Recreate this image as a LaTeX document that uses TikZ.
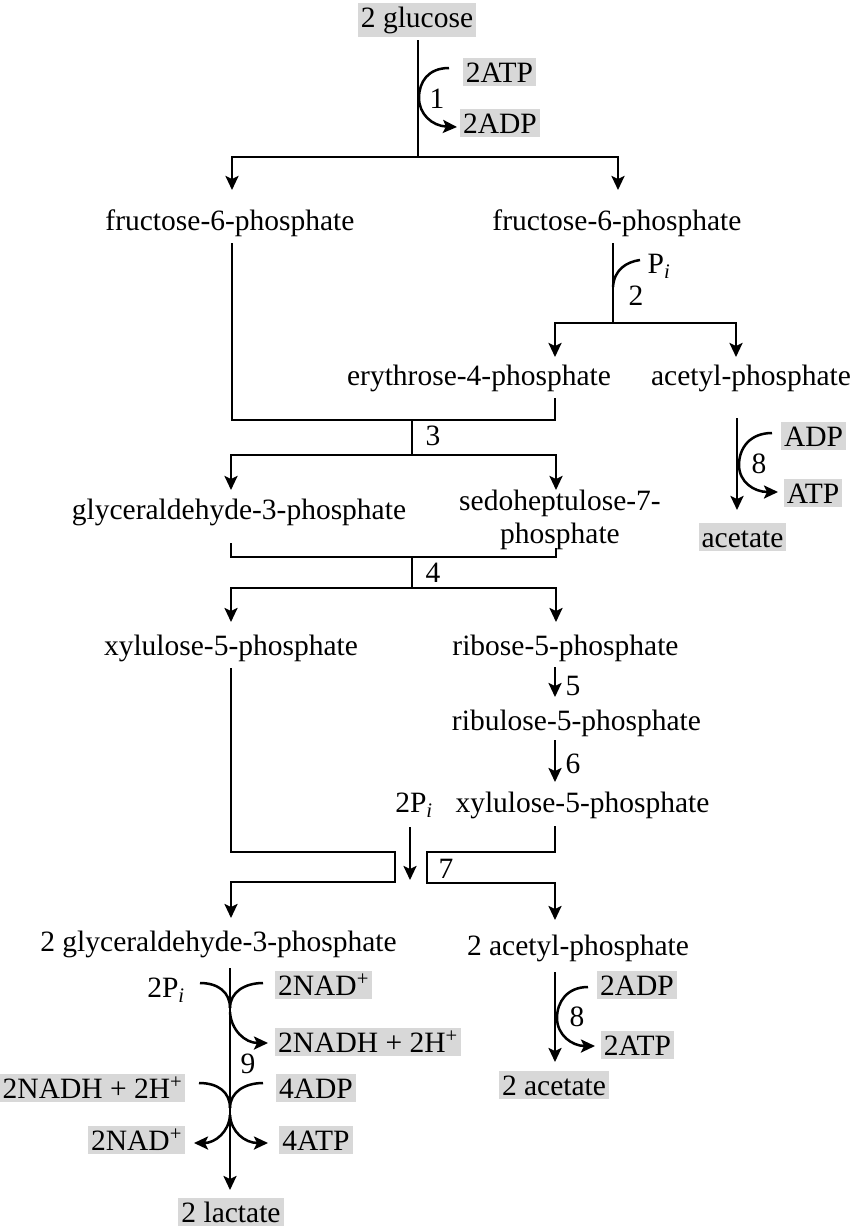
\documentclass[tikz,border=0pt]{standalone}
\usepackage{fontspec}
\setmainfont{Liberation Serif}
\usetikzlibrary{arrows.meta}
\definecolor{boxgray}{RGB}{216,216,216}
\begin{document}
\begin{tikzpicture}[x=1pt,y=-1pt,
  every node/.style={font=\fontsize{29.5}{33}\selectfont, inner sep=0pt},
  lbl/.style={anchor=base},
  gbox/.style={anchor=base, fill=boxgray, inner xsep=3pt, inner ysep=3.5pt, text height=21pt},
  ln/.style={line width=2.5pt},
  arr/.style={ln,-{Stealth[length=14pt,width=13pt,inset=3pt]}}]
\useasboundingbox (0,0) rectangle (850,1229);

% ---------- nodes ----------
\node[gbox] (glu) at (417,27) {2 glucose};
\node[gbox] (atpA) at (499.5,82) {2ATP};
\node[gbox] (adpA) at (500,133) {2ADP};
\node[lbl] (n1) at (437,108) {1};
\node[lbl] (f6pL) at (230,230) {fructose-6-phosphate};
\node[lbl] (f6pR) at (617,230) {fructose-6-phosphate};
\node[lbl] (pi1) at (659,273) {P\textsubscript{\textit{i}}};
\node[lbl] (n2) at (636,305) {2};
\node[lbl] (e4p) at (479,385) {erythrose-4-phosphate};
\node[lbl] (acp) at (751,385) {acetyl-phosphate};
\node[gbox] (adpB) at (813.5,446) {ADP};
\node[gbox] (atpB) at (813,503) {ATP};
\node[lbl] (n8a) at (759,473) {8};
\node[gbox] (acet) at (742.5,547) {acetate};
\node[lbl] (n3) at (433,445) {3};
\node[lbl] (gap) at (239,519) {glyceraldehyde-3-phosphate};
\node[anchor=center, align=center] (s7p) at (560,519.5) {sedoheptulose-7-\\phosphate};
\node[lbl] (n4) at (433,582) {4};
\node[lbl] (x5pL) at (231,655) {xylulose-5-phosphate};
\node[lbl] (r5p) at (565.5,655) {ribose-5-phosphate};
\node[lbl] (n5) at (573,695) {5};
\node[lbl] (ru5p) at (576.5,730) {ribulose-5-phosphate};
\node[lbl] (n6) at (573,773) {6};
\node[lbl] (x5pR) at (582.5,812) {xylulose-5-phosphate};
\node[lbl] (pi2) at (414,812) {2P\textsubscript{\textit{i}}};
\node[lbl] (n7) at (446,878) {7};
\node[lbl] (gap2) at (218.5,951) {2 glyceraldehyde-3-phosphate};
\node[lbl] (acp2) at (578,955) {2 acetyl-phosphate};
\node[lbl] (pi3) at (166,997) {2P\textsubscript{\textit{i}}};
\node[gbox] (nadA) at (323.5,995) {2NAD\textsuperscript{+}};
\node[gbox] (nadhA) at (368,1052) {2NADH + 2H\textsuperscript{+}};
\node[lbl] (n9) at (248,1073) {9};
\node[gbox] (nadhB) at (92.5,1098) {2NADH + 2H\textsuperscript{+}};
\node[gbox] (adpC) at (316,1098) {4ADP};
\node[gbox] (nadB) at (136.5,1150) {2NAD\textsuperscript{+}};
\node[gbox] (atpC) at (316,1150) {4ATP};
\node[gbox] (lac) at (231,1222) {2 lactate};
\node[gbox] (adpD) at (637,995) {2ADP};
\node[gbox] (atpD) at (637.5,1055) {2ATP};
\node[lbl] (n8b) at (577,1026) {8};
\node[gbox] (acet2) at (554,1095) {2 acetate};

% ---------- step 1 ----------
\coordinate (g1) at (418,40);
\coordinate (j1) at (418,157);
\coordinate (fLt) at (232,190);
\coordinate (fRt) at (618,190);
\draw[ln] (g1) -- (j1);
\draw[arr] (j1) -| (fLt);
\draw[arr] (j1) -| (fRt);
\coordinate (c1a) at (449,68);
\coordinate (c1m) at (419,98);
\coordinate (c1b) at (457,127);
\draw[arr] (c1a) .. controls (428,68) and (419,82) .. (c1m) .. controls (419,114) and (432,126) .. (c1b);

% ---------- step 2 ----------
\coordinate (fRb) at (613,243);
\coordinate (j2) at (613,323);
\draw[ln] (fRb) -- (j2);
\coordinate (c2a) at (613,287);
\coordinate (c2b) at (640,260);
\draw[ln] (c2a) .. controls (614,270) and (626,262) .. (c2b);
\coordinate (e4pt) at (555,357);
\coordinate (acpt) at (736,357);
\draw[arr] (j2) -| (e4pt);
\draw[arr] (j2) -| (acpt);

% ---------- acetate (top right) ----------
\coordinate (acpb) at (737,418);
\coordinate (acett) at (737,510);
\draw[arr] (acpb) -- (acett);
\coordinate (c8a) at (772,433);
\coordinate (c8m) at (739,465);
\coordinate (c8b) at (778,492);
\draw[arr] (c8a) .. controls (750,433) and (739,448) .. (c8m) .. controls (739,482) and (754,492) .. (c8b);

% ---------- step 3 ----------
\coordinate (fLb) at (232,243);
\coordinate (e4pb) at (555,398);
\coordinate (j3) at (412,420);
\coordinate (j3b) at (412,455);
\draw[ln] (fLb) |- (j3) -| (e4pb);
\draw[ln] (j3) -- (j3b);
\coordinate (gapt) at (231,490);
\coordinate (s7pt) at (556,490);
\draw[arr] (j3b) -| (gapt);
\draw[arr] (j3b) -| (s7pt);

% ---------- step 4 ----------
\coordinate (gapb) at (231,543);
\coordinate (s7pb) at (556,548);
\coordinate (j4) at (412,557);
\coordinate (j4b) at (412,588);
\draw[ln] (gapb) |- (j4) -| (s7pb);
\draw[ln] (j4) -- (j4b);
\coordinate (x5Lt) at (231,622);
\coordinate (r5pt) at (556,622);
\draw[arr] (j4b) -| (x5Lt);
\draw[arr] (j4b) -| (r5pt);

% ---------- steps 5, 6 ----------
\coordinate (r5pb) at (555,667);
\coordinate (ru5pt) at (555,697);
\coordinate (ru5pb) at (555,740);
\coordinate (x5Rt) at (555,782);
\draw[arr] (r5pb) -- (ru5pt);
\draw[arr] (ru5pb) -- (x5Rt);

% ---------- step 7 ----------
\coordinate (x5Lb) at (231,668);
\coordinate (k1) at (395,852);
\coordinate (k2) at (395,882);
\coordinate (gap2t) at (231,918);
\draw[arr] (x5Lb) |- (k1) -- (k2) -| (gap2t);
\coordinate (x5Rb) at (555,826);
\coordinate (k3) at (427,852);
\coordinate (k4) at (427,883);
\coordinate (acp2t) at (555,920);
\draw[arr] (x5Rb) |- (k3) -- (k4) -| (acp2t);
\coordinate (pi2b) at (410,827);
\coordinate (pi2e) at (410,880);
\draw[arr] (pi2b) -- (pi2e);

% ---------- step 9 (lactate) ----------
\coordinate (gap2b) at (230,968);
\coordinate (lact) at (230,1190);
\draw[arr] (gap2b) -- (lact);
\coordinate (m1) at (230,1008);
\coordinate (m1o) at (230,1012);
\coordinate (m2) at (230,1108);
\coordinate (m2o) at (230,1115);
\coordinate (piin) at (200,983);
\coordinate (nadin) at (263,983);
\coordinate (nadhout) at (268,1043);
\coordinate (nadhin) at (199,1083);
\coordinate (adpin) at (263,1083);
\coordinate (nadout) at (194,1143);
\coordinate (atpout) at (268,1143);
\draw[ln] (piin) .. controls (218,983) and (230,992) .. (m1);
\draw[ln] (nadin) .. controls (245,983) and (230,992) .. (m1);
\draw[arr] (m1o) .. controls (231,1030) and (245,1043) .. (nadhout);
\draw[ln] (nadhin) .. controls (218,1083) and (230,1092) .. (m2);
\draw[ln] (adpin) .. controls (245,1083) and (230,1092) .. (m2);
\draw[arr] (m2o) .. controls (229,1132) and (215,1143) .. (nadout);
\draw[arr] (m2o) .. controls (231,1132) and (245,1143) .. (atpout);

% ---------- step 8 (bottom right) ----------
\coordinate (acp2b) at (555,972);
\coordinate (acet2t) at (555,1062);
\draw[arr] (acp2b) -- (acet2t);
\coordinate (c8c) at (588,987);
\coordinate (c8n) at (557,1018);
\coordinate (c8d) at (595,1046);
\draw[arr] (c8c) .. controls (567,987) and (557,1002) .. (c8n) .. controls (557,1035) and (572,1046) .. (c8d);
\end{tikzpicture}
\end{document}
